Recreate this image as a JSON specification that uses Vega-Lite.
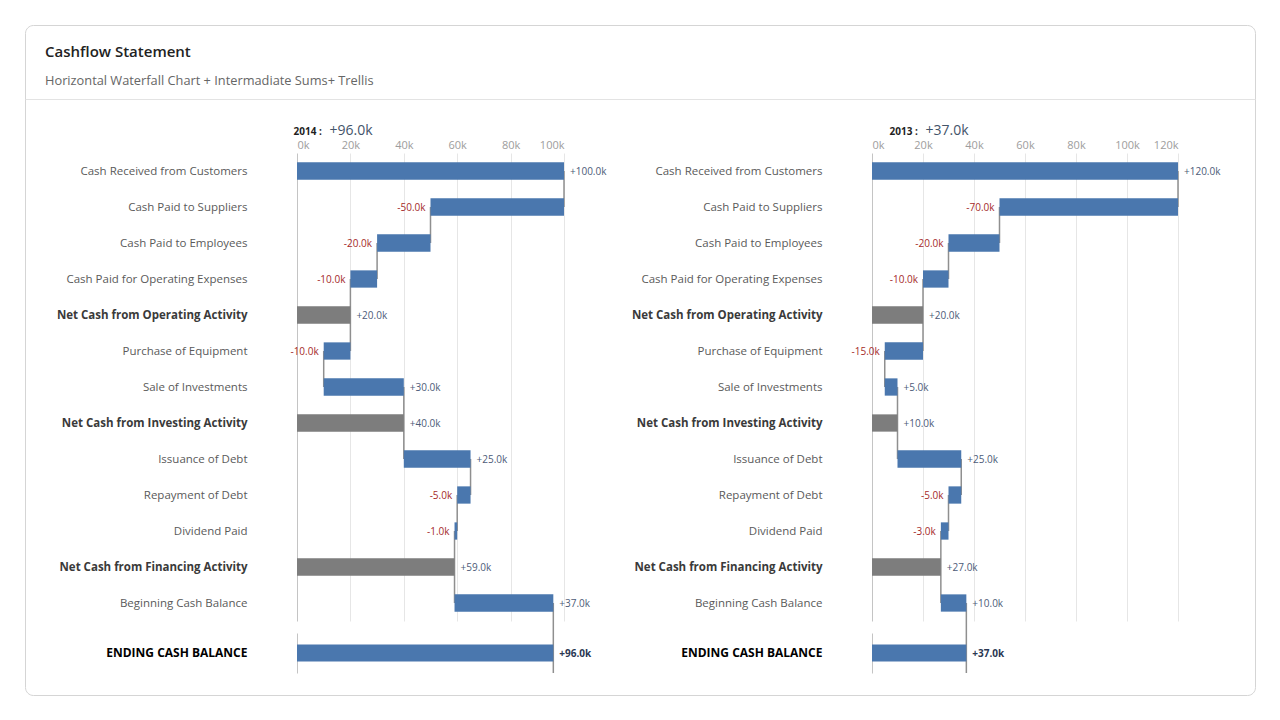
{
  "$schema": "https://vega.github.io/schema/vega-lite/v6.json",
  "width": 1230,
  "height": 670,
  "autosize": {"type": "none"},
  "padding": 25,
  "background": "#ffffff",
  "config": {
    "font": "Open Sans",
    "view": {"fill": "#ffffff", "stroke": "#d5d5d5", "strokeWidth": 1, "cornerRadius": 8},
    "axis": {"labelFont": "Open Sans", "titleFont": "Open Sans"},
    "text": {"font": "Open Sans"},
    "title": {"font": "Open Sans", "subtitleFont": "Open Sans"}
  },
  "title": {
    "text": "Cashflow Statement",
    "subtitle": "Horizontal Waterfall Chart + Intermadiate Sums+ Trellis",
    "anchor": "start",
    "frame": "group",
    "offset": -63,
    "dx": 20,
    "fontSize": 15,
    "fontWeight": 600,
    "color": "#222222",
    "subtitleFontSize": 12.8,
    "subtitleColor": "#666666",
    "subtitlePadding": 15
  },
  "data": {
    "values": [
      {"year": 2014, "n": 1, "item": "Cash Received from Customers", "amount": 100000, "kind": "delta"},
      {"year": 2014, "n": 2, "item": "Cash Paid to Suppliers", "amount": -50000, "kind": "delta"},
      {"year": 2014, "n": 3, "item": "Cash Paid to Employees", "amount": -20000, "kind": "delta"},
      {"year": 2014, "n": 4, "item": "Cash Paid for Operating Expenses", "amount": -10000, "kind": "delta"},
      {"year": 2014, "n": 5, "item": "Net Cash from Operating Activity", "amount": 20000, "kind": "sum"},
      {"year": 2014, "n": 6, "item": "Purchase of Equipment", "amount": -10000, "kind": "delta"},
      {"year": 2014, "n": 7, "item": "Sale of Investments", "amount": 30000, "kind": "delta"},
      {"year": 2014, "n": 8, "item": "Net Cash from Investing Activity", "amount": 40000, "kind": "sum"},
      {"year": 2014, "n": 9, "item": "Issuance of Debt", "amount": 25000, "kind": "delta"},
      {"year": 2014, "n": 10, "item": "Repayment of Debt", "amount": -5000, "kind": "delta"},
      {"year": 2014, "n": 11, "item": "Dividend Paid", "amount": -1000, "kind": "delta"},
      {"year": 2014, "n": 12, "item": "Net Cash from Financing Activity", "amount": 59000, "kind": "sum"},
      {"year": 2014, "n": 13, "item": "Beginning Cash Balance", "amount": 37000, "kind": "delta"},
      {"year": 2014, "n": 14, "item": "ENDING CASH BALANCE", "amount": 96000, "kind": "total"},
      {"year": 2013, "n": 1, "item": "Cash Received from Customers", "amount": 120000, "kind": "delta"},
      {"year": 2013, "n": 2, "item": "Cash Paid to Suppliers", "amount": -70000, "kind": "delta"},
      {"year": 2013, "n": 3, "item": "Cash Paid to Employees", "amount": -20000, "kind": "delta"},
      {"year": 2013, "n": 4, "item": "Cash Paid for Operating Expenses", "amount": -10000, "kind": "delta"},
      {"year": 2013, "n": 5, "item": "Net Cash from Operating Activity", "amount": 20000, "kind": "sum"},
      {"year": 2013, "n": 6, "item": "Purchase of Equipment", "amount": -15000, "kind": "delta"},
      {"year": 2013, "n": 7, "item": "Sale of Investments", "amount": 5000, "kind": "delta"},
      {"year": 2013, "n": 8, "item": "Net Cash from Investing Activity", "amount": 10000, "kind": "sum"},
      {"year": 2013, "n": 9, "item": "Issuance of Debt", "amount": 25000, "kind": "delta"},
      {"year": 2013, "n": 10, "item": "Repayment of Debt", "amount": -5000, "kind": "delta"},
      {"year": 2013, "n": 11, "item": "Dividend Paid", "amount": -3000, "kind": "delta"},
      {"year": 2013, "n": 12, "item": "Net Cash from Financing Activity", "amount": 27000, "kind": "sum"},
      {"year": 2013, "n": 13, "item": "Beginning Cash Balance", "amount": 10000, "kind": "delta"},
      {"year": 2013, "n": 14, "item": "ENDING CASH BALANCE", "amount": 37000, "kind": "total"}
    ]
  },
  "transform": [
    {"calculate": "datum.kind == 'delta' ? datum.amount : 0", "as": "change"},
    {
      "window": [
        {"op": "sum", "field": "change", "as": "run"},
        {"op": "lead", "field": "item", "as": "next"}
      ],
      "groupby": ["year"],
      "sort": [{"field": "n", "order": "ascending"}],
      "frame": [null, 0]
    },
    {"calculate": "datum.kind == 'delta' ? datum.run - datum.amount : 0", "as": "from"},
    {"calculate": "datum.kind == 'delta' ? datum.run : datum.amount", "as": "to"},
    {"calculate": "(datum.amount < 0 ? '-' : '+') + format(abs(datum.amount) / 1000, '.1f') + 'k'", "as": "label"}
  ],
  "resolve": {"scale": {"x": "independent", "y": "independent"}},
  "layer": [
    {
      "mark": {"type": "text"},
      "encoding": {
        "x": {
          "field": "amount", "type": "quantitative",
          "axis": {"orient": "top", "offset": -74, "domain": true, "domainColor": "#e3e3e3", "domainWidth": 1, "labels": false, "ticks": false, "grid": false, "title": null}
        }
      }
    },
    {
      "transform": [{"filter": "datum.year == 2014 && datum.kind != 'total'"}],
      "encoding": {
        "y": {
          "field": "item", "type": "nominal",
          "scale": {
            "domain": ["Cash Received from Customers", "Cash Paid to Suppliers", "Cash Paid to Employees", "Cash Paid for Operating Expenses", "Net Cash from Operating Activity", "Purchase of Equipment", "Sale of Investments", "Net Cash from Investing Activity", "Issuance of Debt", "Repayment of Debt", "Dividend Paid", "Net Cash from Financing Activity", "Beginning Cash Balance"],
            "range": [128, 596], "paddingInner": 0.52, "paddingOuter": 0.26
          },
          "axis": {
            "orient": "left", "offset": -272,
            "domain": false, "ticks": false, "labelPadding": 50, "labelOffset": 1, "labelFontSize": 11.5, "labelLimit": 300,
            "labelColor": {"condition": {"test": "indexof(datum.value, 'Net Cash') == 0", "value": "#3a3a3a"}, "value": "#5a5a5a"},
            "labelFontWeight": {"condition": {"test": "indexof(datum.value, 'Net Cash') == 0", "value": "bold"}, "value": "normal"},
            "title": "2014 :", "titleAngle": 0, "titleAlign": "left", "titleBaseline": "alphabetic",
            "titleX": -4, "titleY": 109, "titleFontSize": 10, "titleFontWeight": "bold", "titleColor": "#1f1f1f"
          }
        }
      },
      "layer": [
        {
          "transform": [{"filter": "datum.next != 'ENDING CASH BALANCE'"}],
          "mark": {"type": "rule", "color": "#8f8f8f", "strokeWidth": 1.5},
          "encoding": {
            "x": {"field": "run", "type": "quantitative", "title": "+96.0k"},
            "y2": {"field": "next"}
          }
        },
        {
          "transform": [{"filter": "datum.next == 'ENDING CASH BALANCE'"}],
          "mark": {"type": "rule", "color": "#8f8f8f", "strokeWidth": 1.5, "y2Offset": -22},
          "encoding": {
            "x": {"field": "run", "type": "quantitative", "title": "+96.0k"},
            "y2": {"value": "height"}
          }
        },
        {
          "mark": {"type": "bar"},
          "encoding": {
            "x": {
              "field": "from", "type": "quantitative", "title": "+96.0k",
              "scale": {"domain": [0, 100000], "range": [272, 539], "nice": false},
              "axis": {
                "orient": "top", "offset": -128, "values": [0, 20000, 40000, 60000, 80000, 100000],
                "labelExpr": "datum.value / 1000 + 'k'", "labelFlush": true,
                "grid": true,
                "gridColor": {"condition": {"test": "datum.value == 0", "value": "#c4c4c4"}, "value": "#e6e6e6"},
                "domain": false, "ticks": false, "labelPadding": 3, "labelFontSize": 11, "labelColor": "#9d9d9d",
                "titleX": 304, "titleY": -19, "titleAlign": "left", "titleBaseline": "alphabetic",
                "titleFontSize": 14, "titleFontWeight": "normal", "titleColor": "#44546a"
              }
            },
            "x2": {"field": "to"},
            "color": {"condition": {"test": "datum.kind == 'sum'", "value": "#7d7d7d"}, "value": "#4a77ae"}
          }
        },
        {
          "transform": [{"filter": "datum.amount >= 0"}],
          "mark": {"type": "text", "align": "left", "baseline": "middle", "dx": 6, "dy": 1, "fontSize": 10, "color": "#4d5b78"},
          "encoding": {
            "x": {"field": "to", "type": "quantitative", "title": "+96.0k"},
            "text": {"field": "label"}
          }
        },
        {
          "transform": [{"filter": "datum.amount < 0"}],
          "mark": {"type": "text", "align": "right", "baseline": "middle", "dx": -5, "dy": 1, "fontSize": 10, "color": "#a52a2a"},
          "encoding": {
            "x": {"field": "to", "type": "quantitative", "title": "+96.0k"},
            "text": {"field": "label"}
          }
        }
      ]
    },
    {
      "transform": [{"filter": "datum.year == 2013 && datum.kind != 'total'"}],
      "encoding": {
        "y": {
          "field": "item", "type": "nominal",
          "scale": {
            "domain": ["Cash Received from Customers", "Cash Paid to Suppliers", "Cash Paid to Employees", "Cash Paid for Operating Expenses", "Net Cash from Operating Activity", "Purchase of Equipment", "Sale of Investments", "Net Cash from Investing Activity", "Issuance of Debt", "Repayment of Debt", "Dividend Paid", "Net Cash from Financing Activity", "Beginning Cash Balance"],
            "range": [128, 596], "paddingInner": 0.52, "paddingOuter": 0.26
          },
          "axis": {
            "orient": "left", "offset": -847,
            "domain": false, "ticks": false, "labelPadding": 50, "labelOffset": 1, "labelFontSize": 11.5, "labelLimit": 300,
            "labelColor": {"condition": {"test": "indexof(datum.value, 'Net Cash') == 0", "value": "#3a3a3a"}, "value": "#5a5a5a"},
            "labelFontWeight": {"condition": {"test": "indexof(datum.value, 'Net Cash') == 0", "value": "bold"}, "value": "normal"},
            "title": "2013 :", "titleAngle": 0, "titleAlign": "left", "titleBaseline": "alphabetic",
            "titleX": 17, "titleY": 109, "titleFontSize": 10, "titleFontWeight": "bold", "titleColor": "#1f1f1f"
          }
        }
      },
      "layer": [
        {
          "transform": [{"filter": "datum.next != 'ENDING CASH BALANCE'"}],
          "mark": {"type": "rule", "color": "#8f8f8f", "strokeWidth": 1.5},
          "encoding": {
            "x": {"field": "run", "type": "quantitative", "title": "+37.0k"},
            "y2": {"field": "next"}
          }
        },
        {
          "transform": [{"filter": "datum.next == 'ENDING CASH BALANCE'"}],
          "mark": {"type": "rule", "color": "#8f8f8f", "strokeWidth": 1.5, "y2Offset": -22},
          "encoding": {
            "x": {"field": "run", "type": "quantitative", "title": "+37.0k"},
            "y2": {"value": "height"}
          }
        },
        {
          "mark": {"type": "bar"},
          "encoding": {
            "x": {
              "field": "from", "type": "quantitative", "title": "+37.0k",
              "scale": {"domain": [0, 120000], "range": [847, 1153], "nice": false},
              "axis": {
                "orient": "top", "offset": -128, "values": [0, 20000, 40000, 60000, 80000, 100000, 120000],
                "labelExpr": "datum.value / 1000 + 'k'", "labelFlush": true,
                "grid": true,
                "gridColor": {"condition": {"test": "datum.value == 0", "value": "#c4c4c4"}, "value": "#e6e6e6"},
                "domain": false, "ticks": false, "labelPadding": 3, "labelFontSize": 11, "labelColor": "#9d9d9d",
                "titleX": 900, "titleY": -19, "titleAlign": "left", "titleBaseline": "alphabetic",
                "titleFontSize": 14, "titleFontWeight": "normal", "titleColor": "#44546a"
              }
            },
            "x2": {"field": "to"},
            "color": {"condition": {"test": "datum.kind == 'sum'", "value": "#7d7d7d"}, "value": "#4a77ae"}
          }
        },
        {
          "transform": [{"filter": "datum.amount >= 0"}],
          "mark": {"type": "text", "align": "left", "baseline": "middle", "dx": 6, "dy": 1, "fontSize": 10, "color": "#4d5b78"},
          "encoding": {
            "x": {"field": "to", "type": "quantitative", "title": "+37.0k"},
            "text": {"field": "label"}
          }
        },
        {
          "transform": [{"filter": "datum.amount < 0"}],
          "mark": {"type": "text", "align": "right", "baseline": "middle", "dx": -5, "dy": 1, "fontSize": 10, "color": "#a52a2a"},
          "encoding": {
            "x": {"field": "to", "type": "quantitative", "title": "+37.0k"},
            "text": {"field": "label"}
          }
        }
      ]
    },
    {
      "transform": [{"filter": "datum.year == 2014 && datum.kind == 'total'"}],
      "encoding": {
        "y": {
          "field": "item", "type": "nominal",
          "scale": {"range": [608, 648], "paddingInner": 0, "paddingOuter": 0.68},
          "axis": {
            "orient": "left", "offset": -272,
            "domain": false, "ticks": false, "labelPadding": 50, "labelFontSize": 12, "labelLimit": 300,
            "labelColor": "#000000", "labelFontWeight": "bold", "title": null
          }
        }
      },
      "layer": [
        {
          "mark": {"type": "bar", "color": "#4a77ae"},
          "encoding": {
            "x": {
              "field": "from", "type": "quantitative", "title": null,
              "scale": {"domain": [0, 100000], "range": [272, 539], "nice": false},
              "axis": {"orient": "top", "offset": -608, "values": [0], "labels": false, "grid": true, "gridColor": "#c4c4c4", "domain": false, "ticks": false}
            },
            "x2": {"field": "to"}
          }
        },
        {
          "mark": {"type": "text", "align": "left", "baseline": "middle", "dx": 6, "dy": 1, "fontSize": 10, "fontWeight": "bold", "color": "#2b3853"},
          "encoding": {
            "x": {"field": "to", "type": "quantitative", "title": null},
            "text": {"field": "label"}
          }
        }
      ]
    },
    {
      "transform": [{"filter": "datum.year == 2013 && datum.kind == 'total'"}],
      "encoding": {
        "y": {
          "field": "item", "type": "nominal",
          "scale": {"range": [608, 648], "paddingInner": 0, "paddingOuter": 0.68},
          "axis": {
            "orient": "left", "offset": -847,
            "domain": false, "ticks": false, "labelPadding": 50, "labelFontSize": 12, "labelLimit": 300,
            "labelColor": "#000000", "labelFontWeight": "bold", "title": null
          }
        }
      },
      "layer": [
        {
          "mark": {"type": "bar", "color": "#4a77ae"},
          "encoding": {
            "x": {
              "field": "from", "type": "quantitative", "title": null,
              "scale": {"domain": [0, 120000], "range": [847, 1153], "nice": false},
              "axis": {"orient": "top", "offset": -608, "values": [0], "labels": false, "grid": true, "gridColor": "#c4c4c4", "domain": false, "ticks": false}
            },
            "x2": {"field": "to"}
          }
        },
        {
          "mark": {"type": "text", "align": "left", "baseline": "middle", "dx": 6, "dy": 1, "fontSize": 10, "fontWeight": "bold", "color": "#2b3853"},
          "encoding": {
            "x": {"field": "to", "type": "quantitative", "title": null},
            "text": {"field": "label"}
          }
        }
      ]
    }
  ]
}
